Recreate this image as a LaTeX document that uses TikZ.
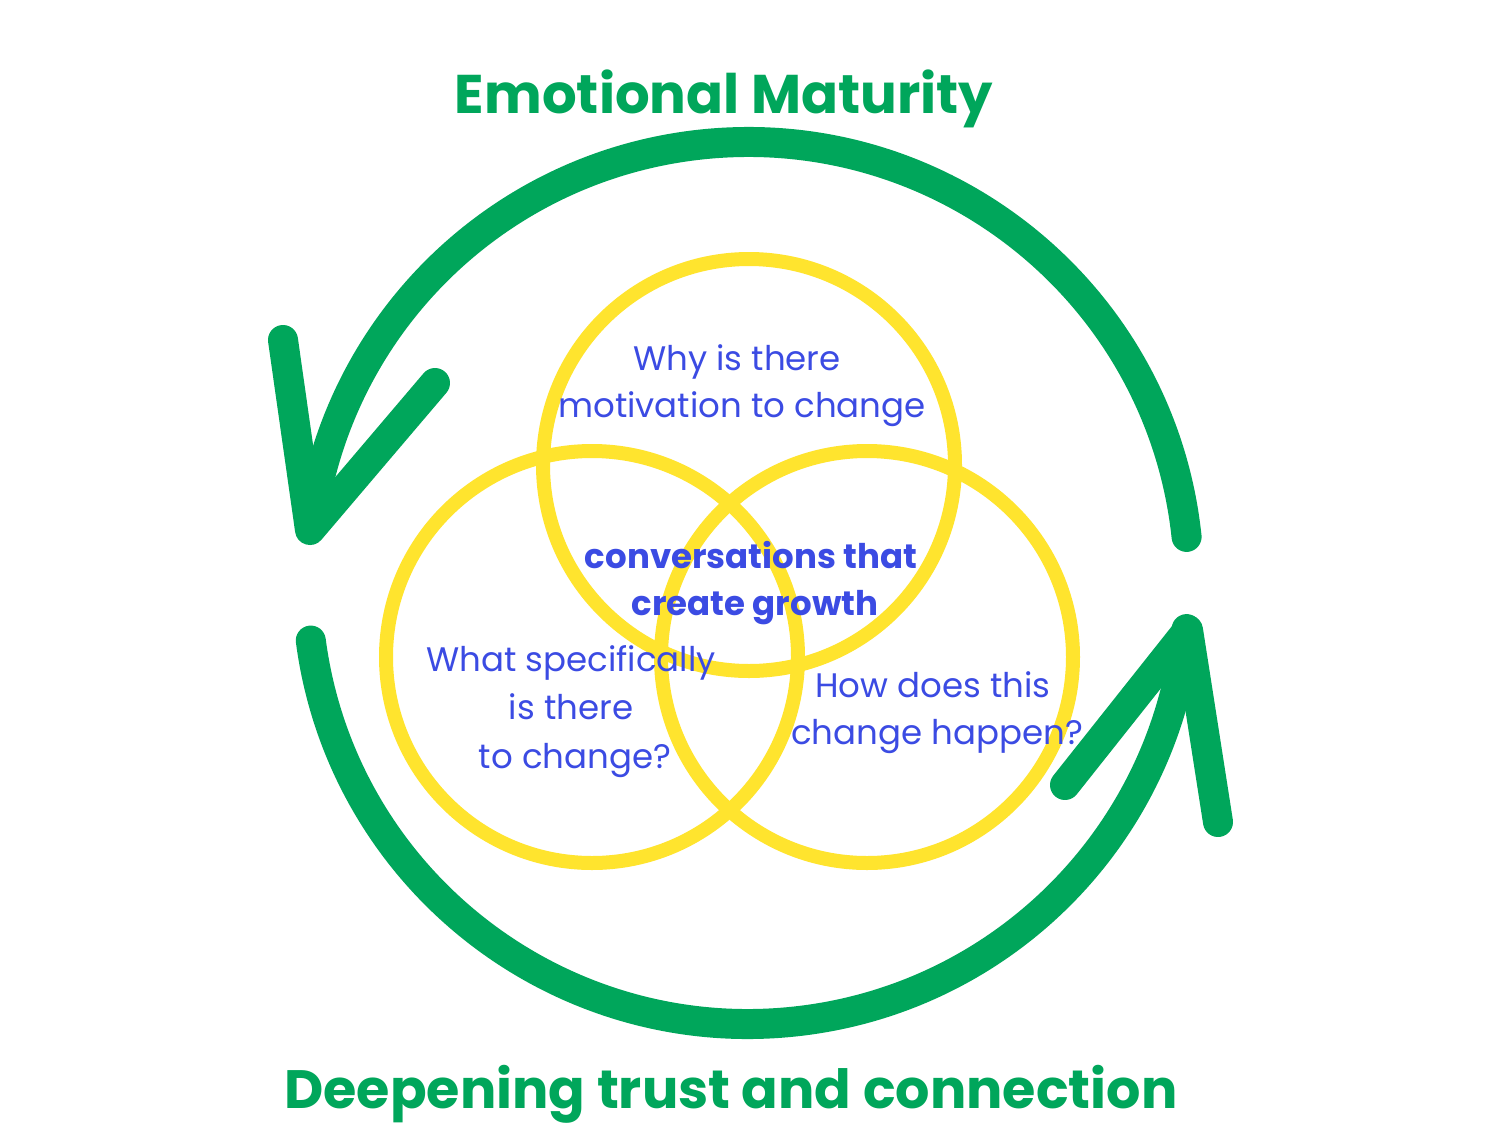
\documentclass[tikz,border=0pt]{standalone}
\usepackage{fontspec}
\setmainfont{Poppins}
\definecolor{ringgreen}{HTML}{00A65B}
\definecolor{venny}{HTML}{FFE42E}
\definecolor{qblue}{HTML}{3B4BE3}
\begin{document}
\begin{tikzpicture}[x=1pt,y=-1pt,
  venn/.style={draw=venny,line width=14pt},
  cyc/.style={draw=ringgreen,line width=30pt,line cap=round,line join=round},
  qtext/.style={anchor=base,text=qblue,inner sep=0pt,font=\fontsize{34}{34}\selectfont},
  ctext/.style={anchor=base,text=qblue,inner sep=0pt,font=\fontsize{34}{34}\selectfont\bfseries},
  ttext/.style={anchor=base,text=ringgreen,inner sep=0pt,font=\fontsize{54.5}{54.5}\selectfont\bfseries}]
\useasboundingbox (0,0) rectangle (1500,1125);
\fill[white] (0,0) rectangle (1500,1125);
% Venn circles
\draw[venn] (749,465) circle[radius=206];
\draw[venn] (592,657) circle[radius=206];
\draw[venn] (867,657) circle[radius=206];
% cycle arrows
\coordinate (ltip) at (310,530);
\coordinate (larmA) at (283,340);
\coordinate (larmB) at (435,383);
\coordinate (rtip) at (1188,630);
\coordinate (rarmA) at (1065,785);
\coordinate (rarmB) at (1218,822);
\coordinate (c) at (748,583);
\draw[cyc] (c) ++(-6:441) arc[start angle=-6,end angle=-172,radius=441];
\draw[cyc] (larmA) -- (ltip) -- (larmB);
\draw[cyc] (c) ++(172.5:441) arc[start angle=172.5,end angle=6,radius=441];
\draw[cyc] (rarmA) -- (rtip) -- (rarmB);
% texts
\node[ttext] (t1) at (724,113) {Emotional Maturity};
\node[ttext,font=\fontsize{54}{54}\selectfont\bfseries] (t2) at (731,1108) {Deepening trust and connection};
\node[qtext] (a1) at (737,370) {Why is there};
\node[qtext] (a2) at (742,417) {motivation to change};
\node[ctext] (c1) at (751,568) {conversations that};
\node[ctext] (c2) at (755,615) {create growth};
\node[qtext] (b1) at (571,671) {What specifically};
\node[qtext] (b2) at (571,719) {is there};
\node[qtext] (b3) at (575,768) {to change?};
\node[qtext] (d1) at (933,697) {How does this};
\node[qtext] (d2) at (937,744) {change happen?};
\end{tikzpicture}
\end{document}
